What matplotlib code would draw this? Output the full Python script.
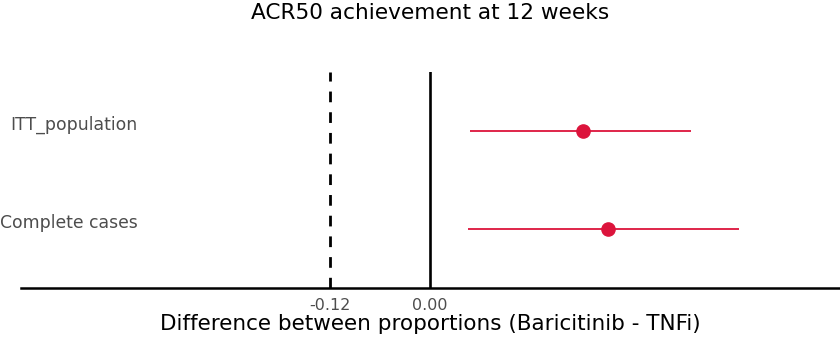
import numpy as np
import matplotlib.pyplot as plt

plt.rcParams['font.family'] = ['DejaVu Sans']

# data
groups = ['Complete cases', 'ITT_population']
estimate = [0.213, 0.184]
lower = [0.046, 0.048]
upper = [0.371, 0.313]
margin = -0.12
xticks = [-0.12, 0.00]
xtick_labels = ['-0.12', '0.00']

red = '#DC143C'
grey = '#4D4D4D'

fig = plt.figure(figsize=(8.4, 3.4), dpi=100)
ax = fig.add_axes([0.025, 0.153, 0.975, 0.635])

ypos = np.arange(1, len(groups) + 1)

ax.axvline(margin, color='black', lw=2, dashes=(3.85, 3.6), zorder=1)
ax.axvline(0, color='black', lw=1.9, zorder=1)

ax.hlines(ypos, lower, upper, color=red, lw=1.3, zorder=2)
ax.plot(estimate, ypos, 'o', color=red, ms=9.5, zorder=3)

ax.set_xlim(-0.491, 0.492)
ax.set_ylim(0.4, 2.6)

for s in ['top', 'right', 'left']:
    ax.spines[s].set_visible(False)
ax.spines['bottom'].set_linewidth(1.8)

ax.set_yticks([])
ax.set_xticks(xticks)
ax.set_xticklabels(xtick_labels, color=grey, fontsize=11.5)
ax.tick_params(axis='x', length=0, pad=7)

# group labels sit inside the panel, right aligned
for y, g in zip(ypos, groups):
    ax.text(0.1425, y + 0.065, g, transform=ax.get_yaxis_transform(),
            ha='right', va='center', color=grey, fontsize=12.4)

ax.set_xlabel('Difference between proportions (Baricitinib - TNFi)',
              fontsize=15.5, labelpad=1)
ax.set_title('ACR50 achievement at 12 weeks', fontsize=15.6, pad=38)

fig.savefig('out.png', dpi=100)
